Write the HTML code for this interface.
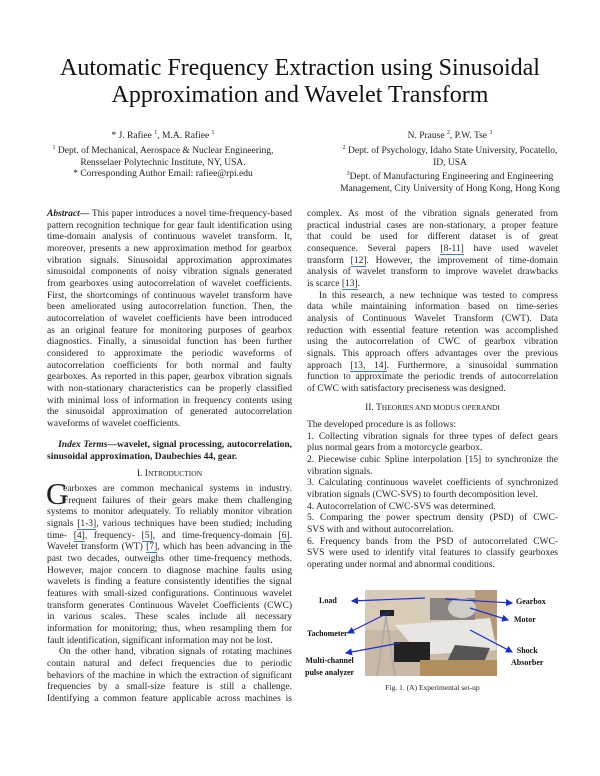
<!DOCTYPE html>
<html><head><meta charset="utf-8"><style>
body{margin:0;width:600px;height:776px;background:#fff;position:relative;overflow:hidden;font-family:"Liberation Serif",serif;color:#222}
.a{position:absolute}
.t{position:absolute;left:0;width:600px;text-align:center;font-size:24px;color:#111}
.c{font-size:9.5px;line-height:11.67px}
.c div{text-align:justify;text-align-last:justify;height:11.67px;white-space:normal}
.c div.l{text-align-last:left}
.ctr{text-align:center;font-size:9.5px;line-height:11.7px}
u{text-decoration:none;border-bottom:1px solid #3a7fd0}
.sc{font-size:9.5px;text-align:center}
.lab{position:absolute;font-size:8px;font-weight:bold;color:#111;line-height:12px}
</style></head><body>
<div class="t" style="top:55px">Automatic Frequency Extraction using Sinusoidal</div>
<div class="t" style="top:82px">Approximation and Wavelet Transform</div>

<div class="a ctr" style="left:43px;width:240px;top:128px">* J. Rafiee <sup style="font-size:6px">1</sup>, M.A. Rafiee <sup style="font-size:6px">1</sup><br><sup style="font-size:6px">1</sup> Dept. of Mechanical, Aerospace &amp; Nuclear Engineering,<br>Rensselaer Polytechnic Institute, NY, USA.<br>* Corresponding Author Email: rafiee@rpi.edu</div>
<div class="a ctr" style="left:320px;width:260px;top:128px">N. Prause <sup style="font-size:6px">2</sup>, P.W. Tse <sup style="font-size:6px">3</sup><br><sup style="font-size:6px">2</sup> Dept. of Psychology, Idaho State University, Pocatello,<br>ID, USA<br><sup style="font-size:6px">3</sup>Dept. of Manufacturing Engineering and Engineering<br>Management, City University of Hong Kong, Hong Kong</div>

<div class="a c" style="left:47px;width:245px;top:209px">
<div><b><i>Abstract</i>—</b> This paper introduces a novel time-frequency-based</div>
<div>pattern recognition technique for gear fault identification using</div>
<div>time-domain analysis of continuous wavelet transform. It,</div>
<div>moreover, presents a new approximation method for gearbox</div>
<div>vibration signals. Sinusoidal approximation approximates</div>
<div>sinusoidal components of noisy vibration signals generated</div>
<div>from gearboxes using autocorrelation of wavelet coefficients.</div>
<div>First, the shortcomings of continuous wavelet transform have</div>
<div>been ameliorated using autocorrelation function. Then, the</div>
<div>autocorrelation of wavelet coefficients have been introduced</div>
<div>as an original feature for monitoring purposes of gearbox</div>
<div>diagnostics. Finally, a sinusoidal function has been further</div>
<div>considered to approximate the periodic waveforms of</div>
<div>autocorrelation coefficients for both normal and faulty</div>
<div>gearboxes. As reported in this paper, gearbox vibration signals</div>
<div>with non-stationary characteristics can be properly classified</div>
<div>with minimal loss of information in frequency contents using</div>
<div>the sinusoidal approximation of generated autocorrelation</div>
<div class="l">waveforms of wavelet coefficients.</div>
</div>
<div class="a c" style="left:47px;width:245px;top:440px;font-weight:bold">
<div>&nbsp;&nbsp;&nbsp;&nbsp;<i>Index Terms</i>—wavelet, signal processing, autocorrelation,</div>
<div class="l">sinusoidal approximation, Daubechies 44, gear.</div>
</div>
<div class="a sc" style="left:47px;width:245px;top:469px">I. I<span style="font-size:7.5px">NTRODUCTION</span></div>
<div class="a" style="left:46px;top:478px;font-size:31px;line-height:31px">G</div>
<div class="a c" style="left:47px;width:245px;top:484px">
<div style="padding-left:16px">earboxes are common mechanical systems in industry.</div>
<div style="padding-left:16px">Frequent failures of their gears make them challenging</div>
<div>systems to monitor adequately. To reliably monitor vibration</div>
<div>signals <u>[1-3]</u>, various techniques have been studied; including</div>
<div>time- <u>[4]</u>, frequency- <u>[5]</u>, and time-frequency-domain <u>[6]</u>.</div>
<div>Wavelet transform (WT) <u>[7]</u>, which has been advancing in the</div>
<div>past two decades, outweighs other time-frequency methods.</div>
<div>However, major concern to diagnose machine faults using</div>
<div>wavelets is finding a feature consistently identifies the signal</div>
<div>features with small-sized configurations. Continuous wavelet</div>
<div>transform generates Continuous Wavelet Coefficients (CWC)</div>
<div>in various scales. These scales include all necessary</div>
<div>information for monitoring; thus, when resampling them for</div>
<div class="l">fault identification, significant information may not be lost.</div>
<div style="padding-left:12px">On the other hand, vibration signals of rotating machines</div>
<div>contain natural and defect frequencies due to periodic</div>
<div>behaviors of the machine in which the extraction of significant</div>
<div>frequencies by a small-size feature is still a challenge.</div>
<div>Identifying a common feature applicable across machines is</div>
</div>

<div class="a c" style="left:307px;width:251px;top:209px">
<div>complex. As most of the vibration signals generated from</div>
<div>practical industrial cases are non-stationary, a proper feature</div>
<div>that could be used for different dataset is of great</div>
<div>consequence. Several papers <u>[8-11]</u> have used wavelet</div>
<div>transform <u>[12]</u>. However, the improvement of time-domain</div>
<div>analysis of wavelet transform to improve wavelet drawbacks</div>
<div class="l">is scarce <u>[13]</u>.</div>
<div style="padding-left:12px">In this research, a new technique was tested to compress</div>
<div>data while maintaining information based on time-series</div>
<div>analysis of Continuous Wavelet Transform (CWT). Data</div>
<div>reduction with essential feature retention was accomplished</div>
<div>using the autocorrelation of CWC of gearbox vibration</div>
<div>signals. This approach offers advantages over the previous</div>
<div>approach <u>[13, 14]</u>. Furthermore, a sinusoidal summation</div>
<div>function to approximate the periodic trends of autocorrelation</div>
<div class="l">of CWC with satisfactory preciseness was designed.</div>
</div>
<div class="a sc" style="left:307px;width:251px;top:403px">II. T<span style="font-size:7.5px">HEORIES AND MODUS OPERANDI</span></div>
<div class="a c" style="left:307px;width:251px;top:420px">
<div class="l">The developed procedure is as follows:</div>
<div>1. Collecting vibration signals for three types of defect gears</div>
<div class="l">plus normal gears from a motorcycle gearbox.</div>
<div>2. Piecewise cubic Spline interpolation [15] to synchronize the</div>
<div class="l">vibration signals.</div>
<div>3. Calculating continuous wavelet coefficients of synchronized</div>
<div class="l">vibration signals (CWC-SVS) to fourth decomposition level.</div>
<div class="l">4. Autocorrelation of CWC-SVS was determined.</div>
<div>5. Comparing the power spectrum density (PSD) of CWC-</div>
<div class="l">SVS with and without autocorrelation.</div>
<div>6. Frequency bands from the PSD of autocorrelated CWC-</div>
<div>SVS were used to identify vital features to classify gearboxes</div>
<div class="l">operating under normal and abnormal conditions.</div>
</div>

<svg class="a" style="left:0;top:0" width="600" height="776">
<defs><marker id="ar" markerWidth="6" markerHeight="6" refX="5" refY="3" orient="auto"><path d="M0,0L6,3L0,6z" fill="#1a2fd0"/></marker></defs>
<rect x="365" y="590" width="132" height="86" fill="#c9b9a6"/>
<rect x="365" y="590" width="132" height="40" fill="#d8cbb8"/>
<rect x="475" y="590" width="22" height="50" fill="#b89a7a"/>
<polygon points="395,625 490,618 497,650 420,655" fill="#e8e6e2"/>
<rect x="430" y="598" width="45" height="22" fill="#8a8580"/>
<ellipse cx="462" cy="608" rx="14" ry="10" fill="#d0ccc6"/>
<rect x="402" y="646" width="22" height="14" fill="#ddd"/>
<polygon points="455,645 490,648 478,676 440,676" fill="#555"/>
<rect x="394" y="642" width="36" height="20" fill="#222"/>
<rect x="380" y="610" width="14" height="6" fill="#222"/>
<line x1="386" y1="616" x2="377" y2="676" stroke="#aaa" stroke-width="1.5"/>
<line x1="386" y1="616" x2="395" y2="676" stroke="#aaa" stroke-width="1.5"/>
<rect x="420" y="660" width="77" height="16" fill="#b08e5e"/>
<g stroke="#1a2fd0" stroke-width="1.2" marker-end="url(#ar)">
<line x1="425" y1="598" x2="352" y2="601"/>
<line x1="445" y1="599" x2="512" y2="603"/>
<line x1="470" y1="608" x2="508" y2="620"/>
<line x1="390" y1="612" x2="348" y2="633"/>
<line x1="470" y1="630" x2="512" y2="652"/>
<line x1="400" y1="643" x2="346" y2="653"/>
</g>
</svg>
<div class="lab" style="left:319px;top:595px">Load</div>
<div class="lab" style="left:516px;top:596px">Gearbox</div>
<div class="lab" style="left:514px;top:614px">Motor</div>
<div class="lab" style="left:307px;top:628px">Tachometer</div>
<div class="lab" style="left:511px;top:645px;text-align:center">Shock<br>Absorber</div>
<div class="lab" style="left:305px;top:655px;text-align:center">Multi-channel<br>pulse analyzer</div>
<div class="a" style="left:307px;width:251px;top:683px;text-align:center;font-size:7.5px">Fig. 1. (A) Experimental set-up</div>
</body></html>
